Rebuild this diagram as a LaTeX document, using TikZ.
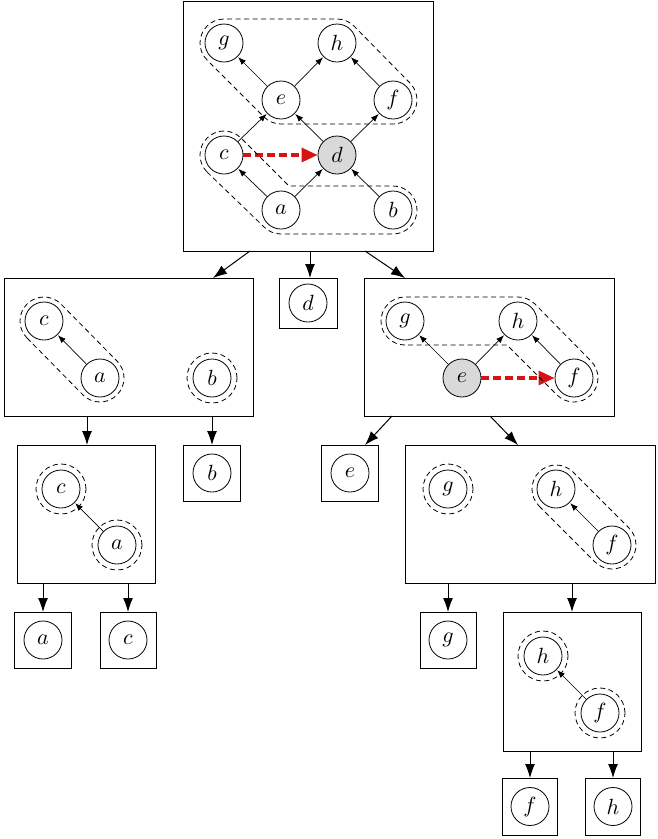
\documentclass[tikz,border=0pt]{standalone}
\usepackage{graphicx}
\usetikzlibrary{arrows.meta,calc}
\newcommand{\lbl}[1]{\scalebox{2.2}{$#1$}}
\begin{document}
\begin{tikzpicture}[x=1pt,y=-1pt,
  v/.style={circle,draw,line width=0.8pt,minimum size=38pt,inner sep=0pt},
  gv/.style={v,fill=black!15},
  box/.style={draw,line width=0.9pt,inner sep=0pt},
  e/.style={-{Latex[length=8pt,width=6pt]},line width=0.7pt,shorten >=0.5pt},
  t/.style={-{Latex[length=14pt,width=10pt]},line width=1pt},
  redarr/.style={-{Triangle[length=16pt,width=14pt]},draw={rgb,255:red,215;green,20;blue,20},line width=3.2pt,dash pattern=on 8pt off 4pt},
  hull/.style={draw,line width=0.8pt,dash pattern=on 5pt off 3.5pt},
  ring/.style={hull,circle,minimum size=50pt,inner sep=0pt}]
\useasboundingbox (0,0) rectangle (658,839);
% ---------- top box
\node[box,minimum width=250pt,minimum height=250pt] (T) at (308,126) {};
\node[v] (g1) at (224,43) {\lbl{g}};
\node[v] (h1) at (337,43) {\lbl{h}};
\node[v] (e1) at (281,100) {\lbl{e}};
\node[v] (f1) at (393,100) {\lbl{f}};
\node[v] (c1) at (224,155) {\lbl{c}};
\node[gv] (d1) at (337,155) {\lbl{d}};
\node[v] (a1) at (281,210) {\lbl{a}};
\node[v] (b1) at (393,210) {\lbl{b}};
\foreach \s/\t in {a1/c1,a1/d1,b1/d1,c1/e1,d1/e1,d1/f1,e1/g1,e1/h1,f1/h1} \draw[e] (\s) -- (\t);
\draw[redarr] (c1) -- (d1);
\draw[hull] ($(g1)+(135:24)$) arc[start angle=135,end angle=270,radius=24]
  -- ($(h1)+(270:24)$) arc[start angle=270,end angle=315,radius=24]
  -- ($(f1)+(315:24)$) arc[start angle=315,end angle=450,radius=24]
  -- ($(e1)+(90:24)$) arc[start angle=90,end angle=135,radius=24] -- cycle;
\draw[hull] ($(c1)+(135:24)$) -- ($(a1)+(135:24)$) arc[start angle=135,end angle=90,radius=24]
  -- ($(b1)+(90:24)$) arc[start angle=90,end angle=-90,radius=24]
  -- (289,186) -- ($(c1)+(-45:24)$) arc[start angle=-45,end angle=-225,radius=24];
% ---------- level 2
\node[box,minimum width=249pt,minimum height=138pt] (L) at (128.5,347) {};
\node[v] (c2) at (44,321) {\lbl{c}};
\node[v] (a2) at (100,378) {\lbl{a}};
\node[v] (b2) at (212,378) {\lbl{b}};
\node[ring] (rb2) at (b2) {};
\draw[e] (a2) -- (c2);
\draw[hull] ($(c2)+(135:24)$) -- ($(a2)+(135:24)$) arc[start angle=135,end angle=-45,radius=24]
  -- ($(c2)+(-45:24)$) arc[start angle=-45,end angle=-225,radius=24];
\node[box,minimum width=58pt,minimum height=50pt] (D) at (308,303) {};
\node[v] (d2) at (D) {\lbl{d}};
\node[box,minimum width=250pt,minimum height=138pt] (R) at (489,347) {};
\node[v] (g2) at (405,321) {\lbl{g}};
\node[v] (h2) at (518,321) {\lbl{h}};
\node[gv] (e2) at (462,378) {\lbl{e}};
\node[v] (f2) at (574,378) {\lbl{f}};
\draw[e] (e2) -- (g2); \draw[e] (e2) -- (h2); \draw[e] (f2) -- (h2);
\draw[redarr] (e2) -- (f2);
\draw[hull] ($(g2)+(90:24)$) arc[start angle=90,end angle=270,radius=24]
  -- ($(h2)+(270:24)$) arc[start angle=270,end angle=315,radius=24]
  -- ($(f2)+(315:24)$) arc[start angle=315,end angle=495,radius=24]
  -- (507,345) -- cycle;
\coordinate (T1) at (250,251); \coordinate (L1) at (213,278);
\coordinate (T2) at (310,251); \coordinate (D1) at (310,278);
\coordinate (T3) at (365,251); \coordinate (R1) at (405,278);
\draw[t] (T1) -- (L1); \draw[t] (T2) -- (D1); \draw[t] (T3) -- (R1);
% ---------- level 3 left
\node[box,minimum width=138pt,minimum height=138pt] (LL) at (86,514) {};
\node[v] (c3) at (61,489) {\lbl{c}};
\node[v] (a3) at (117,545) {\lbl{a}};
\node[ring] at (c3) {}; \node[ring] at (a3) {};
\draw[e] (a3) -- (c3);
\node[box,minimum width=57pt,minimum height=56pt] (B) at (212,473) {};
\node[v] (b3) at (B) {\lbl{b}};
\coordinate (L2) at (87,416); \coordinate (LL1) at (87,445);
\coordinate (L3) at (212,416); \coordinate (B1) at (212,445);
\draw[t] (L2) -- (LL1); \draw[t] (L3) -- (B1);
\node[box,minimum width=57pt,minimum height=56pt] (A) at (43,640) {};
\node[v] (a4) at (A) {\lbl{a}};
\node[box,minimum width=56pt,minimum height=56pt] (C) at (128,640) {};
\node[v] (c4) at (C) {\lbl{c}};
\coordinate (LL2) at (43,583); \coordinate (A1) at (43,612);
\coordinate (LL3) at (128,583); \coordinate (C1) at (128,612);
\draw[t] (LL2) -- (A1); \draw[t] (LL3) -- (C1);
% ---------- level 3 right
\node[box,minimum width=57pt,minimum height=56pt] (E) at (350,473) {};
\node[v] (e3) at (E) {\lbl{e}};
\node[box,minimum width=250pt,minimum height=138pt] (RR) at (530,514) {};
\node[v] (g3) at (448,489) {\lbl{g}};
\node[ring] at (g3) {};
\node[v] (h3) at (556,489) {\lbl{h}};
\node[v] (f3) at (612,545) {\lbl{f}};
\draw[e] (f3) -- (h3);
\draw[hull] ($(h3)+(135:24)$) -- ($(f3)+(135:24)$) arc[start angle=135,end angle=-45,radius=24]
  -- ($(h3)+(-45:24)$) arc[start angle=-45,end angle=-225,radius=24];
\coordinate (R2) at (392,416); \coordinate (E1) at (365,445);
\coordinate (R3) at (490,416); \coordinate (RR1) at (518,445);
\draw[t] (R2) -- (E1); \draw[t] (R3) -- (RR1);
\node[box,minimum width=56pt,minimum height=56pt] (G) at (448,640) {};
\node[v] (g4) at (G) {\lbl{g}};
\node[box,minimum width=138pt,minimum height=139pt] (RRR) at (572,681.5) {};
\node[v] (h4) at (543,656) {\lbl{h}};
\node[v] (f4) at (600,713) {\lbl{f}};
\node[ring] at (h4) {}; \node[ring] at (f4) {};
\draw[e] (f4) -- (h4);
\coordinate (RR2) at (448,583); \coordinate (G1) at (448,612);
\coordinate (RR3) at (572,583); \coordinate (RRR1) at (572,612);
\draw[t] (RR2) -- (G1); \draw[t] (RR3) -- (RRR1);
\node[box,minimum width=55pt,minimum height=57pt] (F) at (530,806.5) {};
\node[v] (f5) at (F) {\lbl{f}};
\node[box,minimum width=55pt,minimum height=57pt] (H) at (613,806.5) {};
\node[v] (h5) at (H) {\lbl{h}};
\coordinate (RRR2) at (530,751); \coordinate (F1) at (530,778);
\coordinate (RRR3) at (613,751); \coordinate (H1) at (613,778);
\draw[t] (RRR2) -- (F1); \draw[t] (RRR3) -- (H1);
\end{tikzpicture}
\end{document}
